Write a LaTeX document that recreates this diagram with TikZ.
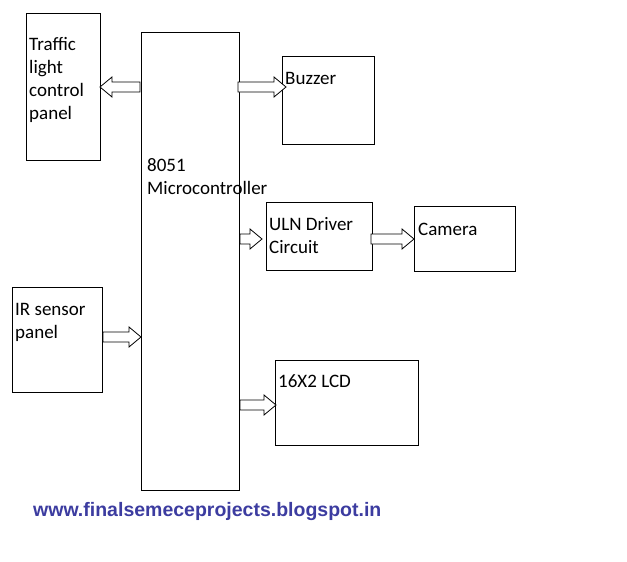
\documentclass[tikz,border=0pt]{standalone}
\usepackage{fontspec}
\setmainfont{Carlito}
\newfontfamily\urlfont{Liberation Sans}
\definecolor{urlblue}{RGB}{60,60,160}
\begin{document}
\begin{tikzpicture}[x=1pt,y=-1pt,
  blk/.style={draw,line width=0.8pt},
  lbl/.style={anchor=north west,align=left,font=\fontsize{19}{23}\selectfont,inner sep=0pt},
  barr/.style={draw,line width=0.8pt,fill=white}]
\useasboundingbox (0,0) rectangle (627,562);
\newcommand{\barrow}[3]{% from x1 to x2 at y
  \pgfmathsetmacro{\hd}{(#2>#1)?-12:12}
  \draw[barr] (#1,#3-5) -- ({#2+\hd},#3-5) -- ({#2+\hd},#3-10) -- (#2,#3) -- ({#2+\hd},#3+10) -- ({#2+\hd},#3+5) -- (#1,#3+5) -- cycle;}
\draw[blk] (26,13) rectangle (100,160) coordinate (traffic);
\draw[blk] (141,32) rectangle (239,490) coordinate (mcu);
\draw[blk] (282,56) rectangle (374,144) coordinate (buzzer);
\draw[blk] (266,202) rectangle (372,270) coordinate (uln);
\draw[blk] (414,206) rectangle (515,271) coordinate (camera);
\draw[blk] (12,287) rectangle (102,392) coordinate (ir);
\draw[blk] (275,360) rectangle (418,445) coordinate (lcd);
\node[lbl] (tt) at (29,37) {Traffic\\light\\control\\panel};
\node[lbl] (mt) at (147,158) {8051\\Microcontroller};
\node[lbl] (bt) at (285,72) {Buzzer};
\node[lbl] (ut) at (269,217) {ULN Driver\\Circuit};
\node[lbl] (ct) at (418,223) {Camera};
\node[lbl] (it) at (15,303) {IR sensor\\panel};
\node[lbl] (lt) at (278,374) {16X2 LCD};
\barrow{140}{100}{87}
\barrow{238}{286}{87}
\barrow{240}{262}{239}
\barrow{371}{414}{239}
\barrow{103}{141}{337}
\barrow{240}{276}{405}
\node[anchor=west,inner sep=0pt,text=urlblue,font=\urlfont\bfseries\fontsize{19.5}{22}\selectfont] (url) at (33,511) {www.finalsemeceprojects.blogspot.in};
\end{tikzpicture}
\end{document}
